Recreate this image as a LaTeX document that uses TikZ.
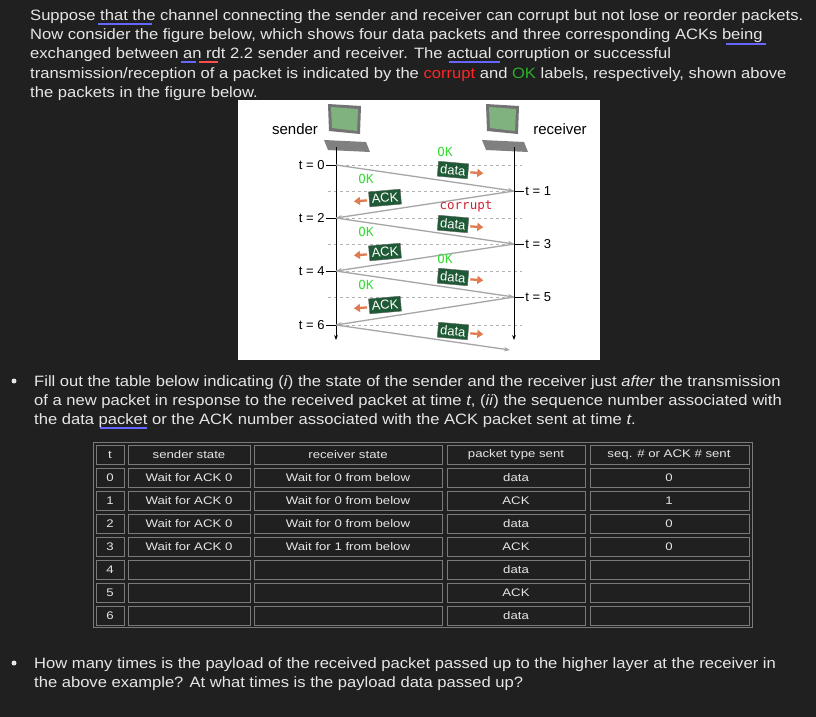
\documentclass[tikz,border=0pt]{standalone}
\usepackage{fontspec}
\setmainfont{Liberation Sans}
\newfontfamily\monofnt{DejaVu Sans Mono}
\usetikzlibrary{arrows.meta}
\definecolor{bg}{HTML}{202020}
\definecolor{fg}{HTML}{E6E6E6}
\definecolor{okg}{HTML}{33DD33}
\definecolor{bad}{HTML}{CC2233}
\definecolor{pk}{HTML}{1E5A35}
\definecolor{org}{HTML}{E07A50}
\definecolor{cellb}{HTML}{7A7A7A}
\tikzset{
 para/.style={anchor=base west,text=fg,font=\fontsize{15}{15}\selectfont,inner sep=0,transform shape,xscale=1.105},
 cell/.style={text=fg,font=\fontsize{11}{11}\selectfont,transform shape,xscale=1.2},
 pkt/.style={fill=pk,draw=black!60,text=white,font=\fontsize{13}{13}\selectfont,inner sep=2.5pt,minimum height=15pt},
 okl/.style={text=okg,font=\monofnt\fontsize{12.5}{12.5}\selectfont,inner sep=0},
 flow/.style={draw=black!35,line width=1.3pt,-{Stealth[length=6pt]}},
 dl/.style={draw=black!30,dashed,line width=0.5pt},
 tl/.style={font=\fontsize{13}{13}\selectfont,inner sep=1pt},
 ora/.style={draw=org,line width=2.3pt,-{Triangle[length=6pt,width=8pt]}},
 sq/.style={line width=1.3pt},
 cbox/.style={draw=cellb,line width=0.8pt}
}
\begin{document}
\begin{tikzpicture}[x=1pt,y=-1pt]
\fill[bg] (0,0) rectangle (816,717);
\useasboundingbox (0,0) rectangle (816,717);
% top paragraph
\node[para] (p1) at (30,21) {Suppose that the channel connecting the sender and receiver can corrupt but not lose or reorder packets.};
\node[para] (p2) at (30,40) {Now consider the figure below, which shows four data packets and three corresponding ACKs being};
\node[para] (p3) at (30,59) {exchanged between an rdt 2.2 sender and receiver. The actual corruption or successful};
\node[para] (p4) at (30,78) {transmission/reception of a packet is indicated by the \textcolor{red!85!white}{corrupt} and \textcolor{okg!80!black}{OK} labels, respectively, shown above};
\node[para] (p5) at (30,97) {the packets in the figure below.};
\draw[blue!60,sq] (98,24) -- (152,24) (726,44) -- (766,44) (181,62) -- (196,62) (449,62) -- (500,62) (100,428) -- (147,428);
\draw[red!70,sq] (199,62) -- (218,62);
% figure
\fill[white] (238,100) rectangle (600,360);
\node[tl,font=\fontsize{15}{15}\selectfont] (snd) at (295,129) {sender};
\node[tl,font=\fontsize{15}{15}\selectfont] (rcv) at (560,129) {receiver};
\foreach \cx/\nm in {346/pcs,504/pcr}{
 \fill[black!55] (\cx-18,104) -- (\cx+15,106) -- (\cx+14,134) -- (\cx-17,131) -- cycle;
 \fill[green!25!gray!80] (\cx-15,107) -- (\cx+12,109) -- (\cx+11,131) -- (\cx-14,128) -- cycle;
 \fill[black!50] (\cx-22,140) -- (\cx+20,142) -- (\cx+24,152) -- (\cx-18,150) -- cycle;
 \coordinate (\nm) at (\cx,150);
}
\coordinate (s0) at (336,165); \coordinate (s2) at (336,218);
\coordinate (s4) at (336,271); \coordinate (s6) at (336,325);
\coordinate (r1) at (514,191); \coordinate (r3) at (514,244);
\coordinate (r5) at (514,297); \coordinate (rend) at (510,350);
\coordinate (sb) at (336,340); \coordinate (rb) at (514,340);
\foreach \y in {165,191,218,244,271,297,325}{\draw[dl] (328,\y) -- (522,\y);}
\draw[line width=1pt,-{Stealth[length=5pt]}] (336,147) -- (sb);
\draw[line width=1pt,-{Stealth[length=5pt]}] (514,147) -- (rb);
\foreach \n/\t in {s0/0,s2/2,s4/4,s6/6}{
 \draw[line width=0.8pt] (\n) -- ++(-10,0) node[tl,anchor=east] {t = \t};}
\foreach \n/\t in {r1/1,r3/3,r5/5}{
 \draw[line width=0.8pt] (\n) -- ++(10,0) node[tl,anchor=west] {t = \t};}
\draw[flow] (s0) -- (r1); \draw[flow] (r1) -- (s2);
\draw[flow] (s2) -- (r3); \draw[flow] (r3) -- (s4);
\draw[flow] (s4) -- (r5); \draw[flow] (r5) -- (s6);
\draw[flow] (s6) -- (rend);
\foreach \y/\nm in {170/d1,224/d2,277/d3,331/d4}{
 \node[pkt,rotate=-5] (\nm) at (453,\y) {data};
 \draw[ora] (\nm.east) ++(2,1) -- ++(13,1);}
\foreach \y/\nm in {198/a1,252/a2,305/a3}{
 \node[pkt,rotate=5] (\nm) at (385,\y) {ACK};
 \draw[ora] (\nm.west) ++(-2,1) -- ++(-13,1);}
\node[okl] (ok1) at (445,152) {OK};
\node[okl] (ok2) at (366,179) {OK};
\node[okl,text=bad] (cr) at (466,206) {corrupt};
\node[okl] (ok3) at (366,232) {OK};
\node[okl] (ok4) at (445,259) {OK};
\node[okl] (ok5) at (366,285) {OK};
% bullet 1
\fill[fg] (14,381) circle (2.5);
\node[para] (q1) at (34,386) {Fill out the table below indicating (\textit{i}) the state of the sender and the receiver just \textit{after} the transmission};
\node[para] (q2) at (34,405) {of a new packet in response to the received packet at time \textit{t}, (\textit{ii}) the sequence number associated with};
\node[para] (q3) at (34,424) {the data packet or the ACK number associated with the ACK packet sent at time \textit{t}.};
% table
\draw[cbox] (93,442) rectangle (752,627);
\foreach \r/\ta/\tb/\tc/\td/\te in {0/t/sender state/receiver state/packet type sent/seq. \# or ACK \# sent,
 1/0/Wait for ACK 0/Wait for 0 from below/data/0,
 2/1/Wait for ACK 0/Wait for 0 from below/ACK/1,
 3/2/Wait for ACK 0/Wait for 0 from below/data/0,
 4/3/Wait for ACK 0/Wait for 1 from below/ACK/0,
 5/4/ / /data/ ,
 6/5/ / /ACK/ ,
 7/6/ / /data/ }{
 \pgfmathsetmacro{\yt}{445+23*\r}
 \pgfmathsetmacro{\yb}{\yt+19}
 \pgfmathsetmacro{\ym}{\yt+9.5}
 \draw[cbox] (96,\yt) rectangle (124,\yb);
 \draw[cbox] (128,\yt) rectangle (250,\yb);
 \draw[cbox] (254,\yt) rectangle (442,\yb);
 \draw[cbox] (447,\yt) rectangle (585,\yb);
 \draw[cbox] (590,\yt) rectangle (749,\yb);
 \node[cell] (c\r a) at (110,\ym) {\ta};
 \node[cell] (c\r b) at (189,\ym) {\tb};
 \node[cell] (c\r c) at (348,\ym) {\tc};
 \node[cell] (c\r d) at (516,\ym) {\td};
 \node[cell] (c\r e) at (669,\ym) {\te};
}
% bullet 2
\fill[fg] (14,663) circle (2.5);
\node[para] (w1) at (34,668) {How many times is the payload of the received packet passed up to the higher layer at the receiver in};
\node[para] (w2) at (34,687) {the above example? At what times is the payload data passed up?};
\end{tikzpicture}
\end{document}
